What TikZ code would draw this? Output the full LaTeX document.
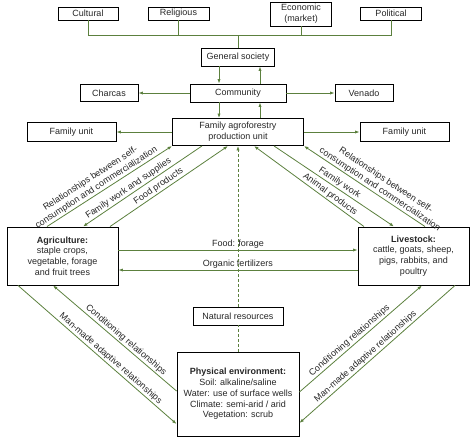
\documentclass[tikz,border=0pt]{standalone}
\usepackage{fontspec}
\setmainfont{Liberation Sans}
\usetikzlibrary{arrows.meta,positioning,calc}
\definecolor{linkgreen}{RGB}{92,128,62}

\begin{document}
\begin{tikzpicture}[
        x=1pt, y=-1pt,
        >={Latex[length=4.5pt,width=3.2pt]},
        every node/.style={font=\fontsize{9}{10.8}\selectfont, text=black!85},
        unitbox/.style={draw=black, line width=0.9pt, align=center, inner sep=1pt},
        link/.style={linkgreen, line width=0.8pt},
        tag/.style={sloped, above, inner sep=1.2pt, align=center}
      ]

        \useasboundingbox (0,0) rectangle (474,440);

        % Spheres of society ----------------------------------------
        \node[unitbox, minimum width=60pt, minimum height=13pt] (cultural)  at (88,13.5)  {Cultural};
        \node[unitbox, minimum width=61pt, minimum height=13pt] (religious) at (178.5,13.5) {Religious};
        \node[unitbox, minimum width=61pt, minimum height=24pt] (economic)  at (301,14)   {Economic\\(market)};
        \node[unitbox, minimum width=61pt, minimum height=13pt] (political) at (391,13.5) {Political};

        \node[unitbox, minimum width=73pt, minimum height=18pt] (society)   at (238,57)   {General society};

        \coordinate (bus) at (238,35.5);
        \draw[link] (cultural.south) |- (bus) -| (political.south);
        \draw[link] (religious.south) -- (religious.south |- bus);
        \draw[link] (economic.south) -- (economic.south |- bus);
        \draw[link] (bus) -- (society.north);

        % Community level -------------------------------------------
        \node[unitbox, minimum width=96pt, minimum height=18pt] (community) at (238,93)   {Community};
        \node[unitbox, minimum width=58pt, minimum height=17pt] (charcas)   at (109,93)   {Charcas};
        \node[unitbox, minimum width=58pt, minimum height=17pt] (venado)    at (364,93)   {Venado};

        \draw[link,->] ([xshift=-19pt]society.south) -- ([xshift=-19pt]community.north);
        \draw[link,->] ([xshift=22pt]community.north) -- ([xshift=22pt]society.south);
        \draw[link,->] (community) -- (charcas);
        \draw[link,->] (community) -- (venado);

        % Family level ----------------------------------------------
        \node[unitbox, minimum width=131pt, minimum height=27pt] (fapu)     at (238,132)  {Family agroforestry\\production unit};
        \node[unitbox, minimum width=89pt, minimum height=19pt] (famleft)   at (71.5,132) {Family unit};
        \node[unitbox, minimum width=89pt, minimum height=19pt] (famright)  at (404.5,132) {Family unit};

        \draw[link,->] ([xshift=-19pt]community.south) -- ([xshift=-19pt]fapu.north);
        \draw[link,->] ([xshift=22pt]fapu.north) -- ([xshift=22pt]community.south);
        \draw[link,->] (fapu) -- (famleft);
        \draw[link,->] (fapu) -- (famright);

        % Production subsystems -------------------------------------
        \node[unitbox, minimum width=111pt, minimum height=58pt] (agri) at (62.5,256)
          {\textbf{Agriculture:}\\staple crops,\\vegetable, forage\\and fruit trees};
        \node[unitbox, minimum width=111pt, minimum height=58pt] (live) at (413.5,256)
          {\textbf{Livestock:}\\cattle, goats, sheep,\\pigs, rabbits, and\\poultry};

        % Agriculture <-> family unit
        \draw[link,->] ([xshift=-15.5pt]agri.north) -- (fapu.south west)
          node[tag, pos=0.42] {Relationships between self-\\consumption and commercialization};
        \draw[link,->] ([xshift=-36pt]fapu.south) -- ([xshift=20.5pt]agri.north)
          node[tag, pos=0.59] {Family work and supplies};
        \draw[link,->] ([xshift=47.5pt]agri.north) -- ([xshift=-10pt]fapu.south)
          node[tag, pos=0.44] {Food products};

        % Livestock <-> family unit
        \draw[link,->] ([xshift=11.5pt]live.north) -- (fapu.south east)
          node[tag, pos=0.4] {Relationships between self-\\consumption and commercialization};
        \draw[link,->] ([xshift=36pt]fapu.south) -- ([xshift=-19.5pt]live.north)
          node[tag, pos=0.52] {Family work};
        \draw[link,->] ([xshift=-49.5pt]live.north) -- ([xshift=16pt]fapu.south)
          node[tag, pos=0.34] {Animal products};

        % Exchanges between subsystems
        \draw[link,->] ([yshift=6pt]agri.east) -- ([yshift=6pt]live.west)
          node[midway, above, inner sep=1.5pt] {Food: forage};
        \draw[link,->] ([yshift=-14pt]live.west) -- ([yshift=-14pt]agri.east)
          node[midway, above, inner sep=1.5pt] {Organic fertilizers};

        % Physical environment --------------------------------------
        \node[unitbox, minimum width=90pt, minimum height=18pt] (natres) at (238,316) {Natural resources};
        \node[unitbox, minimum width=122pt, minimum height=84pt] (physenv) at (238,394)
          {\textbf{Physical environment:}\\Soil: alkaline/saline\\Water: use of surface wells\\Climate: semi-arid / arid\\Vegetation: scrub};

        \draw[link, dash pattern=on 3pt off 2pt] (physenv.north) -- (natres.south);
        \draw[link, dash pattern=on 3pt off 2pt, ->] (natres.north) -- (fapu.south);

        \draw[link,->] ([yshift=3pt]physenv.west) -- ([xshift=-9.5pt]agri.south)
          node[tag, pos=0.44] {Conditioning relationships};
        \draw[link,->] ([xshift=-44.5pt]agri.south) -- ([yshift=-30pt]physenv.west)
          node[tag, pos=0.56] {Man-made adaptive relationships};

        \draw[link,->] ([yshift=2pt]physenv.east) -- ([xshift=8.5pt]live.south)
          node[tag, pos=0.44] {Conditioning relationships};
        \draw[link,->] ([xshift=41.5pt]live.south) -- ([yshift=-29pt]physenv.east)
          node[tag, pos=0.55] {Man-made adaptive relationships};

      \end{tikzpicture}
\end{document}
